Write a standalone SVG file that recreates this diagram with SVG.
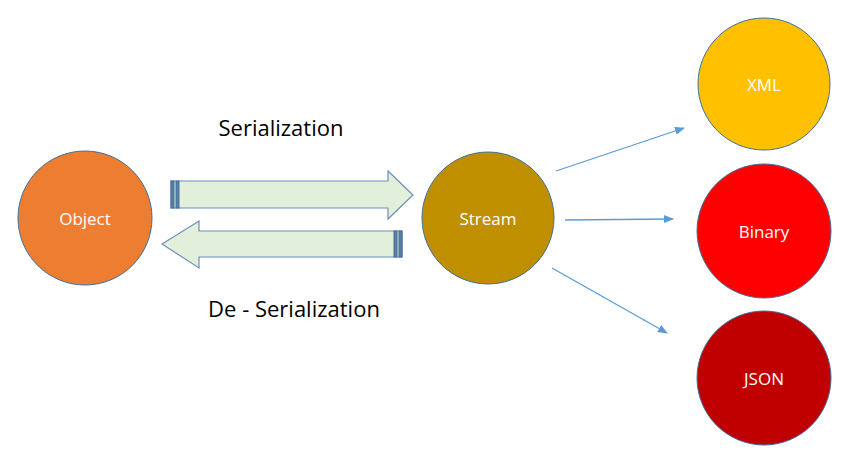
<svg xmlns="http://www.w3.org/2000/svg" width="847" height="471" viewBox="0 0 847 471">
<defs>
<style>
.c{stroke:#41719c;stroke-width:1}
.t{font-family:"Open Sans","Liberation Sans",sans-serif;font-size:17px;fill:#fff;text-anchor:middle;dominant-baseline:central}
.l{font-family:"Open Sans","Liberation Sans",sans-serif;font-size:22px;fill:#000;text-anchor:middle}
.big{fill:#e2efda;stroke:#6c8ebf;stroke-width:1.2}
.bar{fill:#5b7fa8;stroke:#41719c}
.con{stroke:#5b9bd5;stroke-width:1.3;fill:none;marker-end:url(#ah)}
</style>
<marker id="ah" markerWidth="10" markerHeight="8" refX="9" refY="4" orient="auto" markerUnits="userSpaceOnUse">
<path d="M0,0 L10,4 L0,8 z" fill="#5b9bd5"/>
</marker>
</defs>
<rect width="847" height="471" fill="#fff"/>
<g id="object"><circle cx="85" cy="218" r="67" fill="#ed7d31" class="c"/><text x="85" y="218" class="t">Object</text></g>
<g id="stream"><circle cx="488" cy="218" r="66" fill="#bf8f00" class="c"/><text x="488" y="218" class="t">Stream</text></g>
<g id="xml"><circle cx="764" cy="84" r="66" fill="#ffc000" class="c"/><text x="764" y="84" class="t">XML</text></g>
<g id="binary"><circle cx="764" cy="231" r="67" fill="#ff0000" class="c"/><text x="764" y="231" class="t">Binary</text></g>
<g id="json"><circle cx="764" cy="378" r="67" fill="#c00000" class="c"/><text x="764" y="378" class="t">JSON</text></g>
<g id="serialization"><path class="big" d="M171,181 H388 V171 L413,195 L388,219 V208 H171 Z"/><rect class="bar" x="171" y="181" width="3" height="27"/><rect class="bar" x="176" y="181" width="3" height="27"/><text x="281" y="136" class="l">Serialization</text></g>
<g id="deserialization"><path class="big" d="M402,231 H199 V221 L162,244 L199,268 V257 H402 Z"/><rect class="bar" x="394" y="231" width="3" height="26"/><rect class="bar" x="399" y="231" width="3" height="26"/><text x="294" y="317" class="l">De - Serialization</text></g>
<g id="connectors">
<line class="con" x1="556" y1="171" x2="684" y2="128"/>
<line class="con" x1="565" y1="220" x2="673" y2="219"/>
<line class="con" x1="552" y1="268" x2="667" y2="333"/>
</g>
</svg>
